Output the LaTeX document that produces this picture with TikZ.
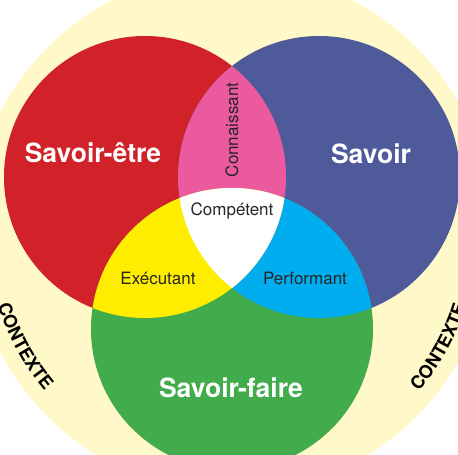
\documentclass[tikz,border=0pt]{standalone}
\usepackage{fontspec}
\setmainfont{TeX Gyre Heros}
\usetikzlibrary{decorations.text}
\definecolor{cbeige}{RGB}{255,248,200}
\definecolor{cred}{RGB}{209,34,41}
\definecolor{cblue}{RGB}{79,90,155}
\definecolor{cgreen}{RGB}{66,171,75}
\definecolor{cpink}{RGB}{235,90,159}
\definecolor{cyellow}{RGB}{255,237,0}
\definecolor{ccyan}{RGB}{0,173,238}
\newcommand\ctxfont{\bfseries\fontsize{18pt}{21pt}\selectfont}
\begin{document}
\begin{tikzpicture}[x=1pt,y=1pt,
  bigl/.style={text=white,font=\bfseries\fontsize{26.5pt}{30pt}\selectfont,inner sep=0pt},
  smalll/.style={text=black!85,font=\fontsize{17pt}{19pt}\selectfont,inner sep=0pt}]
\clip (0,0) rectangle (458,455);
\useasboundingbox (0,0) rectangle (458,455);
\coordinate (bc) at (232,223);
\coordinate (rc) at (145,278);
\coordinate (uc) at (319,278);
\coordinate (gc) at (232,126);
\def\R{141}
\fill[cbeige] (bc) circle (261);
\fill[cred] (rc) circle (\R);
\fill[cblue] (uc) circle (\R);
\fill[cgreen] (gc) circle (\R);
\begin{scope}
  \clip (uc) circle (\R);
  \fill[ccyan] (gc) circle (\R);
\end{scope}
\begin{scope}
  \clip (rc) circle (\R);
  \fill[cpink] (uc) circle (\R);
  \fill[cyellow] (gc) circle (\R);
  \clip (uc) circle (\R);
  \fill[white] (gc) circle (\R);
\end{scope}
\node[bigl] (se) at (93,302) {Savoir-être};
\node[bigl] (sv) at (371,301) {Savoir};
\node[bigl] (sf) at (231,67) {Savoir-faire};
\node[smalll,rotate=90] (cn) at (232,325) {Connaissant};
\node[smalll] (cp) at (232,244) {Compétent};
\node[smalll] (ex) at (158,177) {Exécutant};
\node[smalll] (pf) at (305,177) {Performant};
\path[decorate,decoration={text along path,text={|\ctxfont|CONTEXTE},text align=center}]
  ([shift={(178.8:245.5)}]bc) arc[start angle=178.8,end angle=238.8,radius=245.5];
\path[decorate,decoration={text along path,text={|\ctxfont|CONTEXTE},text align=center}]
  ([shift={(-59:245.5)}]bc) arc[start angle=-59,end angle=1,radius=245.5];
\end{tikzpicture}
\end{document}
